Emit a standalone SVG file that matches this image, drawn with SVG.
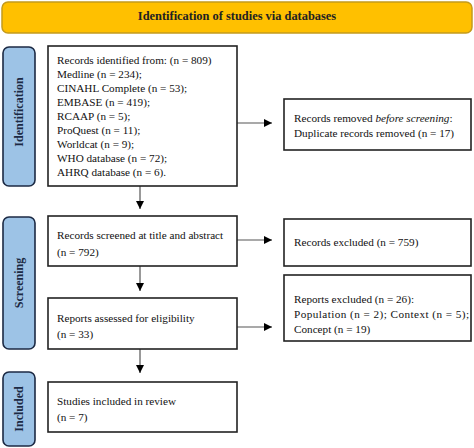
<svg xmlns="http://www.w3.org/2000/svg" width="474" height="448" viewBox="0 0 474 448">
<defs>
<style>
.box{fill:#fff;stroke:#222;stroke-width:1.6}
.side{fill:#9dc3e6;stroke:#1c2a44;stroke-width:1.6}
.t{font-family:"Liberation Serif","Times New Roman",serif;font-size:11.2px;fill:#111}
.st{font-family:"Liberation Serif","Times New Roman",serif;font-size:12px;font-weight:bold;fill:#1c2a44}
.ln{stroke:#555;stroke-width:1.2;fill:none}
</style>
<marker id="ah" viewBox="0 0 10 10" refX="10" refY="5" markerWidth="8" markerHeight="8" markerUnits="userSpaceOnUse" orient="auto">
<path d="M0,0 L10,5 L0,10 z" fill="#000"/>
</marker>
</defs>
<rect width="474" height="448" fill="#fff"/>
<g id="banner">
<rect x="2" y="2" width="470" height="31" rx="6" fill="#ffc000" stroke="#c49a1c" stroke-width="1.5"/>
<text x="237" y="20" text-anchor="middle" class="st" style="fill:#222;font-size:12.4px">Identification of studies via databases</text>
</g>
<g id="label-identification">
<rect class="side" x="3" y="47" width="32" height="139" rx="6"/>
<text class="st" transform="translate(23,112) rotate(-90)" text-anchor="middle">Identification</text>
</g>
<g id="label-screening">
<rect class="side" x="3" y="217" width="32" height="132" rx="6"/>
<text class="st" transform="translate(23,283) rotate(-90)" text-anchor="middle">Screening</text>
</g>
<g id="label-included">
<rect class="side" x="3" y="372" width="32" height="74" rx="6"/>
<text class="st" transform="translate(23,409) rotate(-90)" text-anchor="middle">Included</text>
</g>
<g id="connectors">
<line class="ln" x1="140" y1="186" x2="140" y2="209" marker-end="url(#ah)"/>
<line class="ln" x1="140" y1="266" x2="140" y2="291" marker-end="url(#ah)"/>
<line class="ln" x1="140" y1="349" x2="140" y2="373" marker-end="url(#ah)"/>
<line class="ln" x1="237" y1="123" x2="272" y2="123" marker-end="url(#ah)"/>
<line class="ln" x1="237" y1="240" x2="272" y2="240" marker-end="url(#ah)"/>
<line class="ln" x1="237" y1="327" x2="272" y2="327" marker-end="url(#ah)"/>
</g>
<g id="records-identified">
<rect class="box" x="48" y="46" width="189" height="140"/>
<text class="t" x="57" y="64">Records identified from: (n = 809)</text>
<text class="t" x="57" y="78">Medline (n = 234);</text>
<text class="t" x="57" y="92">CINAHL Complete (n = 53);</text>
<text class="t" x="57" y="106">EMBASE (n = 419);</text>
<text class="t" x="57" y="120">RCAAP (n = 5);</text>
<text class="t" x="57" y="134">ProQuest (n = 11);</text>
<text class="t" x="57" y="148">Worldcat (n = 9);</text>
<text class="t" x="57" y="162">WHO database (n = 72);</text>
<text class="t" x="57" y="176">AHRQ database (n = 6).</text>
</g>
<g id="records-removed">
<rect class="box" x="284" y="99" width="187" height="51"/>
<text class="t" x="294" y="122">Records removed <tspan font-style="italic">before screening</tspan>:</text>
<text class="t" x="294" y="137">Duplicate records removed  (n = 17)</text>
</g>
<g id="records-screened">
<rect class="box" x="48" y="216" width="189" height="50"/>
<text class="t" x="57" y="239">Records screened at title and abstract</text>
<text class="t" x="57" y="256">(n = 792)</text>
</g>
<g id="records-excluded">
<rect class="box" x="284" y="219" width="187" height="47"/>
<text class="t" x="294" y="246">Records excluded (n = 759)</text>
</g>
<g id="reports-assessed">
<rect class="box" x="48" y="298" width="189" height="51"/>
<text class="t" x="57" y="322">Reports assessed for eligibility</text>
<text class="t" x="57" y="338">(n = 33)</text>
</g>
<g id="reports-excluded">
<rect class="box" x="284" y="275" width="187" height="66"/>
<text class="t" x="294" y="303">Reports excluded (n = 26):</text>
<text class="t" x="294" y="318" textLength="175" lengthAdjust="spacing">Population (n = 2); Context (n = 5);</text>
<text class="t" x="294" y="333">Concept (n = 19)</text>
</g>
<g id="studies-included">
<rect class="box" x="48" y="382" width="189" height="50"/>
<text class="t" x="57" y="405">Studies included in review</text>
<text class="t" x="57" y="421">(n = 7)</text>
</g>
</svg>
